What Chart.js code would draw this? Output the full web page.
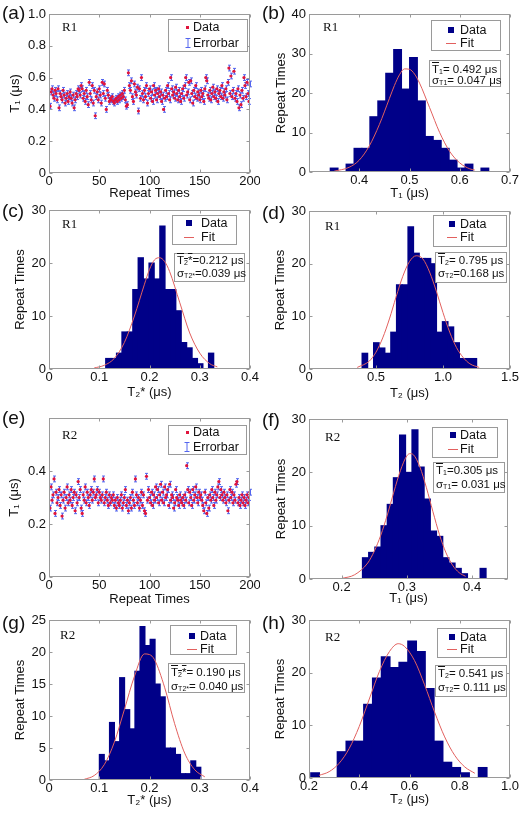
<!DOCTYPE html>
<html>
<head>
<meta charset="utf-8">
<title>T1 / T2 statistics</title>
<script src="https://cdn.jsdelivr.net/npm/chart.js@4.4.1/dist/chart.umd.min.js"></script>
<style>
  body { margin: 0; background: #fff; }
  #fig { position: relative; width: 520px; height: 814px; overflow: hidden;
         font-family: "Liberation Sans", Arial, sans-serif; color: #111; }
  #fig canvas { position: absolute; }
  .tag { position: absolute; font-size: 19px; line-height: 19px; }
  .run { position: absolute; font-family: "Liberation Serif", "Times New Roman", serif; font-size: 13px; line-height: 13px; }
  .box { position: absolute; border: 1px solid #9a9a9a; background: #fff; box-sizing: border-box; }
  .row { position: absolute; font-size: 12.5px; line-height: 14px; white-space: nowrap; }
  .stat { position: absolute; font-size: 11.5px; line-height: 13px; white-space: nowrap; }
  .ov { text-decoration: overline; }
  sub { font-size: 7px; line-height: 0; vertical-align: -1px; }
  .mk { position: absolute; }
</style>
</head>
<body>
<div id="fig"></div>
<script>
// ---------- data ----------
const repeatTicks = [0, 50, 100, 150, 200];

// (a) R1 T1 per repeat
const t1R1 = [
  0.42, 0.51, 0.53, 0.49, 0.47, 0.52, 0.50, 0.46, 0.53, 0.41,
  0.50, 0.48, 0.46, 0.52, 0.49, 0.44, 0.47, 0.50, 0.45, 0.48,
  0.51, 0.47, 0.44, 0.49, 0.41, 0.46, 0.50, 0.48, 0.53, 0.52,
  0.49, 0.55, 0.53, 0.47, 0.50, 0.45, 0.52, 0.48, 0.43, 0.57,
  0.50, 0.46, 0.55, 0.44, 0.52, 0.36, 0.48, 0.51, 0.46, 0.53,
  0.49, 0.44, 0.57, 0.50, 0.56, 0.47, 0.40, 0.52, 0.49, 0.45,
  0.47, 0.46, 0.48, 0.45, 0.44, 0.46, 0.47, 0.45, 0.48, 0.46,
  0.49, 0.47, 0.50, 0.48, 0.52, 0.46, 0.42, 0.43, 0.63, 0.55,
  0.52, 0.58, 0.48, 0.45, 0.56, 0.51, 0.49, 0.54, 0.39, 0.53,
  0.47, 0.60, 0.50, 0.46, 0.52, 0.48, 0.55, 0.44, 0.50, 0.53,
  0.47, 0.51, 0.45, 0.55, 0.49, 0.52, 0.46, 0.50, 0.53, 0.48,
  0.51, 0.45, 0.49, 0.40, 0.47, 0.52, 0.48, 0.55, 0.50, 0.46,
  0.60, 0.53, 0.49, 0.51, 0.47, 0.54, 0.50, 0.46, 0.52, 0.48,
  0.45, 0.50, 0.53, 0.47, 0.55, 0.60, 0.49, 0.51, 0.57, 0.46,
  0.58, 0.50, 0.44, 0.52, 0.48, 0.55, 0.47, 0.51, 0.49, 0.46,
  0.52, 0.48, 0.50, 0.45, 0.53, 0.60, 0.58, 0.49, 0.47, 0.52,
  0.46, 0.50, 0.54, 0.48, 0.51, 0.47, 0.53, 0.45, 0.50, 0.52,
  0.48, 0.55, 0.47, 0.51, 0.49, 0.53, 0.46, 0.57, 0.66, 0.50,
  0.61, 0.48, 0.52, 0.64, 0.47, 0.50, 0.45, 0.53, 0.41, 0.49,
  0.43, 0.52, 0.47, 0.60, 0.55, 0.48, 0.57, 0.50, 0.45, 0.56
];
const errR1 = 0.018;

// (e) R2 T1 per repeat
const t1R2 = [
  0.26, 0.34, 0.29, 0.31, 0.37, 0.24, 0.32, 0.28, 0.30, 0.33,
  0.27, 0.31, 0.23, 0.29, 0.32, 0.26, 0.30, 0.34, 0.28, 0.31,
  0.29, 0.33, 0.27, 0.30, 0.32, 0.25, 0.31, 0.28, 0.36, 0.30,
  0.33, 0.26, 0.24, 0.31, 0.29, 0.34, 0.28, 0.32, 0.30, 0.27,
  0.31, 0.33, 0.29, 0.32, 0.37, 0.30, 0.31, 0.33, 0.28, 0.32,
  0.30, 0.29, 0.31, 0.37, 0.28, 0.30, 0.32, 0.29, 0.27, 0.31,
  0.28, 0.30, 0.29, 0.31, 0.27, 0.29, 0.26, 0.30, 0.28, 0.27,
  0.29, 0.31, 0.26, 0.28, 0.30, 0.33, 0.27, 0.29, 0.25, 0.28,
  0.30, 0.26, 0.32, 0.29, 0.27, 0.37, 0.31, 0.28, 0.30, 0.26,
  0.29, 0.32, 0.27, 0.31, 0.25, 0.24, 0.38, 0.29, 0.33, 0.30,
  0.28, 0.32, 0.27, 0.31, 0.29, 0.34, 0.30, 0.33, 0.28, 0.31,
  0.35, 0.29, 0.32, 0.28, 0.34, 0.30, 0.31, 0.33, 0.27, 0.35,
  0.29, 0.31, 0.30, 0.26, 0.28, 0.33, 0.30, 0.29, 0.27, 0.31,
  0.29, 0.28, 0.30, 0.27, 0.31, 0.29, 0.42, 0.33, 0.28, 0.32,
  0.30, 0.27, 0.33, 0.29, 0.31, 0.34, 0.30, 0.28, 0.32, 0.30,
  0.31, 0.29, 0.27, 0.25, 0.32, 0.28, 0.24, 0.30, 0.26, 0.31,
  0.29, 0.33, 0.30, 0.27, 0.32, 0.29, 0.31, 0.34, 0.36, 0.30,
  0.33, 0.31, 0.29, 0.32, 0.30, 0.28, 0.31, 0.25, 0.29, 0.33,
  0.30, 0.32, 0.28, 0.31, 0.29, 0.35, 0.36, 0.28, 0.30, 0.27,
  0.29, 0.31, 0.28, 0.30, 0.27, 0.29, 0.31, 0.28, 0.30, 0.32
];
const errR2 = 0.011;

// (b) R1 T1 histogram
const binsB = [0.3500, 0.3658, 0.3816, 0.3974, 0.4132, 0.4289, 0.4447, 0.4605, 0.4763, 0.4921,
               0.5079, 0.5237, 0.5395, 0.5553, 0.5711, 0.5868, 0.6026, 0.6184, 0.6342, 0.6500];
const cntB  = [1, 0, 2, 6, 6, 14, 18, 25, 31, 21, 29, 18, 9, 8, 6, 3, 1, 2, 0, 1];
const fitBx = [0.35, 0.38, 0.40, 0.42, 0.44, 0.46, 0.47, 0.48, 0.49, 0.50, 0.51, 0.52, 0.54, 0.56, 0.58, 0.60, 0.62, 0.63];
const fitBy = [0.2, 1.2, 3.0, 6.6, 12.0, 18.6, 21.9, 24.6, 26.1, 26.0, 24.8, 22.5, 16.3, 10.0, 5.2, 2.3, 0.8, 0.5];

// (c) R1 T2* histogram
const binsC = [0.1180, 0.1288, 0.1395, 0.1503, 0.1611, 0.1719, 0.1826, 0.1934, 0.2042, 0.2149,
               0.2257, 0.2365, 0.2472, 0.2580, 0.2688, 0.2796, 0.2903, 0.3011, 0.3119, 0.3226];
const cntC  = [2, 2, 3, 7, 7, 15, 21, 17, 20, 17, 27, 15, 15, 11, 5, 4, 2, 1, 0, 3];
const fitCx = [0.09, 0.11, 0.13, 0.15, 0.17, 0.19, 0.20, 0.21, 0.22, 0.23, 0.24, 0.26, 0.28, 0.30, 0.32, 0.335];
const fitCy = [0.2, 0.7, 2.0, 5.0, 10.0, 16.0, 18.8, 20.6, 21.0, 20.3, 18.4, 12.6, 6.8, 3.0, 1.0, 0.4];

// (d) R1 T2 histogram
const binsD = [0.4170, 0.4598, 0.5026, 0.5454, 0.5882, 0.6310, 0.6738, 0.7166, 0.7594, 0.8022,
               0.8450, 0.8878, 0.9306, 0.9734, 1.0162, 1.0590, 1.1018, 1.1446, 1.1874, 1.2302];
const cntD  = [3, 0, 5, 4, 3, 7, 16, 16, 27, 22, 21, 21, 20, 7, 9, 8, 5, 2, 2, 2];
const fitDx = [0.36, 0.45, 0.50, 0.55, 0.60, 0.65, 0.70, 0.75, 0.80, 0.85, 0.90, 0.95, 1.00, 1.05, 1.10, 1.15, 1.20, 1.27];
const fitDy = [0.3, 1.5, 3.2, 5.9, 9.5, 13.7, 17.6, 20.4, 21.5, 20.9, 18.4, 14.8, 10.7, 7.0, 4.1, 2.2, 1.0, 0.3];

// (f) R2 T1 histogram
const binsF = [0.2365, 0.2460, 0.2555, 0.2650, 0.2745, 0.2839, 0.2934, 0.3029, 0.3124, 0.3219,
               0.3314, 0.3409, 0.3504, 0.3598, 0.3693, 0.3788, 0.3883, 0.3978, 0.4073, 0.4168];
const cntF  = [4, 5, 6, 10, 14, 19, 27, 20, 28, 21, 15, 9, 8, 4, 3, 2, 1, 0, 0, 2];
const fitFx = [0.20, 0.22, 0.24, 0.25, 0.26, 0.27, 0.28, 0.29, 0.30, 0.305, 0.31, 0.32, 0.33, 0.34, 0.35, 0.36, 0.37, 0.38, 0.39];
const fitFy = [0.1, 0.8, 3.0, 5.2, 8.2, 12.0, 16.3, 20.3, 23.1, 23.5, 23.3, 21.0, 17.1, 12.6, 8.3, 4.9, 2.6, 1.2, 0.5];

// (g) R2 T2* histogram
const binsG = [0.1051, 0.1152, 0.1253, 0.1354, 0.1455, 0.1557, 0.1658, 0.1759, 0.1860, 0.1961,
               0.2062, 0.2163, 0.2264, 0.2366, 0.2467, 0.2568, 0.2669, 0.2770, 0.2871, 0.2972];
const cntG  = [4, 3, 9, 6, 16, 11, 8, 17, 24, 21, 22, 15, 13, 5, 5, 4, 1, 1, 3, 2];
const fitGx = [0.07, 0.09, 0.11, 0.13, 0.15, 0.17, 0.19, 0.20, 0.21, 0.23, 0.25, 0.27, 0.29, 0.31];
const fitGy = [0.1, 0.7, 2.4, 5.9, 11.0, 16.2, 19.7, 19.6, 18.8, 14.5, 8.8, 4.2, 1.6, 0.5];

// (h) R2 T2 histogram
const binsH = [0.2243, 0.2594, 0.2945, 0.3296, 0.3647, 0.3998, 0.4349, 0.4700, 0.5051, 0.5402,
               0.5753, 0.6104, 0.6455, 0.6806, 0.7157, 0.7508, 0.7859, 0.8210, 0.8561, 0.8912];
const cntH  = [1, 0, 0, 5, 7, 7, 14, 19, 23, 21, 22, 26, 24, 17, 7, 3, 2, 1, 0, 2];
const fitHx = [0.24, 0.28, 0.32, 0.36, 0.40, 0.44, 0.48, 0.52, 0.555, 0.58, 0.62, 0.66, 0.70, 0.74, 0.78, 0.82, 0.86];
const fitHy = [0.5, 1.2, 2.8, 5.6, 9.8, 15.0, 20.2, 24.0, 25.5, 25.0, 22.3, 17.7, 12.5, 7.8, 4.3, 2.1, 0.9];

// tick labels
const yTicksA = [0, 0.2, 0.4, 0.6, 0.8, 1];
const yTicksE = [0, 0.2, 0.4];
const xTicksB = [0.4, 0.5, 0.6, 0.7], yTicksB = [0, 10, 20, 30, 40];
const xTicksC = [0, 0.1, 0.2, 0.3, 0.4], yTicksC = [0, 10, 20, 30];
const xTicksD = [0, 0.5, 1, 1.5], yTicksD = [0, 10, 20, 30];
const xTicksF = [0.2, 0.3, 0.4], yTicksF = [0, 10, 20, 30];
const xTicksG = [0, 0.1, 0.2, 0.3, 0.4], yTicksG = [0, 5, 10, 15, 20, 25];
const xTicksH = [0.2, 0.4, 0.6, 0.8, 1], yTicksH = [0, 10, 20, 30];

// ---------- drawing ----------
Chart.defaults.font.family = '"Liberation Sans", Arial, sans-serif';
Chart.defaults.color = '#111';

const NAVY = '#000088';
const FITRED = '#e2605e';
const DOTRED = '#e0143c';
const ERRBLUE = '#5466ee';

const fig = document.getElementById('fig');

// box round the plot area, with short inward ticks
const framePlugin = {
  id: 'frame',
  afterDatasetsDraw(chart) {
    const { ctx, chartArea: a, scales } = chart;
    const l = Math.round(a.left) + 0.5, t = Math.round(a.top) + 0.5;
    const r = Math.round(a.right) - 0.5, b = Math.round(a.bottom) - 0.5;
    ctx.save();
    ctx.strokeStyle = '#9a9a9a';
    ctx.lineWidth = 1;
    ctx.strokeRect(l, t, r - l, b - t);
    ctx.beginPath();
    scales.x.ticks.forEach(tk => {
      const x = Math.round(scales.x.getPixelForValue(tk.value)) + 0.5;
      ctx.moveTo(x, b); ctx.lineTo(x, b - 3);
      ctx.moveTo(x, t); ctx.lineTo(x, t + 3);
    });
    scales.y.ticks.forEach(tk => {
      const y = Math.round(scales.y.getPixelForValue(tk.value)) + 0.5;
      ctx.moveTo(l, y); ctx.lineTo(l + 3, y);
      ctx.moveTo(r, y); ctx.lineTo(r - 3, y);
    });
    ctx.stroke();
    ctx.restore();
  }
};

// vertical error bars with caps, under the dots
const errorBarPlugin = {
  id: 'errorBars',
  beforeDatasetsDraw(chart, args, opts) {
    if (!opts || !opts.half) return;
    const { ctx } = chart;
    const xs = chart.scales.x, ys = chart.scales.y;
    ctx.save();
    ctx.strokeStyle = ERRBLUE;
    ctx.lineWidth = 1;
    ctx.beginPath();
    chart.data.datasets[0].data.forEach(p => {
      const x = Math.round(xs.getPixelForValue(p.x)) + 0.5;
      const y1 = ys.getPixelForValue(p.y - opts.half);
      const y2 = ys.getPixelForValue(p.y + opts.half);
      ctx.moveTo(x, y1); ctx.lineTo(x, y2);
      ctx.moveTo(x - 1.5, y1); ctx.lineTo(x + 1.5, y1);
      ctx.moveTo(x - 1.5, y2); ctx.lineTo(x + 1.5, y2);
    });
    ctx.stroke();
    ctx.restore();
  }
};

function scatterSets(vals) {
  return [{
    type: 'scatter',
    data: vals.map((v, i) => ({ x: i + 1, y: v })),
    pointRadius: 1.6,
    pointBackgroundColor: DOTRED,
    pointBorderWidth: 0
  }];
}

function histSets(bins, counts, fx, fy) {
  return [{
    type: 'line',
    data: fx.map((x, i) => ({ x: x, y: fy[i] })),
    borderColor: FITRED,
    borderWidth: 1,
    pointRadius: 0,
    cubicInterpolationMode: 'monotone'
  }, {
    type: 'bar',
    data: bins.map((c, i) => ({ x: c, y: counts[i] })),
    backgroundColor: NAVY,
    barPercentage: 1,
    categoryPercentage: 1,
    inflateAmount: 0.5,
    borderWidth: 0
  }];
}

function addPanel(p) {
  const cv = document.createElement('canvas');
  cv.width = p.w;
  cv.height = p.h;
  cv.style.left = p.left + 'px';
  cv.style.top = p.top + 'px';
  fig.appendChild(cv);
  const [L, T, R, B] = p.plot;
  const yW = L - p.left;
  const xH = p.top + p.h - B;
  new Chart(cv, {
    type: p.type,
    data: { datasets: p.datasets },
    options: {
      responsive: false,
      animation: false,
      events: [],
      layout: { padding: { left: 0, top: T - p.top, right: p.left + p.w - R, bottom: 0 } },
      plugins: { legend: { display: false }, tooltip: { enabled: false }, errorBars: p.err || {} },
      scales: {
        x: {
          type: 'linear', min: p.xr[0], max: p.xr[1], offset: false,
          grid: { display: false, drawTicks: false, offset: false }, border: { display: false },
          ticks: { padding: 1, autoSkip: false, maxRotation: 0, font: { size: 13 } },
          title: { display: true, text: p.xTitle, font: { size: 13 }, padding: 0 },
          afterBuildTicks: s => { s.ticks = p.xTicks.map(v => ({ value: v })); },
          afterFit: s => { s.height = xH; s.paddingLeft = 0; s.paddingRight = 0; }
        },
        y: {
          type: 'linear', min: p.yr[0], max: p.yr[1],
          grid: { display: false, drawTicks: false }, border: { display: false },
          ticks: { padding: 3, autoSkip: false, font: { size: 13 } },
          title: { display: true, text: p.yTitle, font: { size: 13 }, padding: { top: p.yPad, bottom: 0 } },
          afterBuildTicks: s => { s.ticks = p.yTicks.map(v => ({ value: v })); },
          afterFit: s => { s.width = yW; s.paddingTop = 0; s.paddingBottom = 0; }
        }
      }
    },
    plugins: p.err ? [framePlugin, errorBarPlugin] : [framePlugin]
  });
}

function put(cls, left, top, html, extra) {
  const d = document.createElement('div');
  d.className = cls;
  d.style.left = left + 'px';
  d.style.top = top + 'px';
  if (extra) Object.assign(d.style, extra);
  d.innerHTML = html;
  fig.appendChild(d);
  return d;
}

function addLegend(lg, kind) {
  const [bl, bt, bw, bh] = lg.box;
  put('box', bl, bt, '', { width: bw + 'px', height: bh + 'px' });
  const [y1, y2] = lg.rows;
  if (kind === 'scatter') {
    put('mk', lg.mx - 1.5, y1 - 1.5, '', { width: '3px', height: '3px', background: DOTRED });
    put('mk', lg.mx - 3, y2 - 5, '<svg width="6" height="10"><path d="M0.5 0.5H5.5M3 0.5V9.5M0.5 9.5H5.5" stroke="' + ERRBLUE + '" fill="none"/></svg>', { lineHeight: 0 });
    put('row', lg.tx, y1 - 7, 'Data');
    put('row', lg.tx, y2 - 7, 'Errorbar');
  } else {
    put('mk', lg.mx - 3, y1 - 3, '', { width: '6px', height: '6px', background: NAVY });
    put('mk', lg.mx - 5, y2, '', { width: '10px', height: '1px', background: FITRED });
    put('row', lg.tx, y1 - 7, 'Data');
    put('row', lg.tx, y2 - 7, 'Fit');
  }
}

function addStats(st) {
  const [bl, bt, bw, bh] = st.box;
  put('box', bl, bt, '', { width: bw + 'px', height: bh + 'px' });
  put('stat', bl + 3, st.rows[0] - 7, st.lines[0]);
  put('stat', bl + 3, st.rows[1] - 7, st.lines[1]);
}

const T1 = 'T\u2081 (\u03bcs)', T2 = 'T\u2082 (\u03bcs)', T2s = 'T\u2082* (\u03bcs)';

const panels = [
  { tag: '(a)', tagAt: [2, 3], run: 'R1', runAt: [62, 20], type: 'scatter',
    left: 0, top: 0, w: 260, h: 201, plot: [49, 14, 250, 173],
    datasets: scatterSets(t1R1), err: { half: errR1 },
    xr: [0, 200], yr: [0, 1], xTicks: repeatTicks, yTicks: yTicksA,
    xTitle: 'Repeat Times', yTitle: T1, yPad: 8,
    legend: { box: [168, 19, 80, 33], mx: 187.5, tx: 193, rows: [27, 43] } },
  { tag: '(b)', tagAt: [262, 3], run: 'R1', runAt: [323, 20], type: 'bar',
    left: 260, top: 0, w: 260, h: 201, plot: [309, 14, 510, 172],
    datasets: histSets(binsB, cntB, fitBx, fitBy),
    xr: [0.3, 0.7], yr: [0, 40], xTicks: xTicksB, yTicks: yTicksB,
    xTitle: T1, yTitle: 'Repeat Times', yPad: 14,
    legend: { box: [431, 20, 70, 31], mx: 451, tx: 460, rows: [30, 43] },
    stats: { box: [429, 60, 72, 27], rows: [70, 81],
      lines: ['<span class="ov">T</span><sub>1</sub>= 0.492 \u03bcs', '\u03c3<sub>T1</sub>= 0.047 \u03bcs'] } },
  { tag: '(c)', tagAt: [2, 201], run: 'R1', runAt: [62, 217], type: 'bar',
    left: 0, top: 200, w: 260, h: 200, plot: [49, 210, 250, 369],
    datasets: histSets(binsC, cntC, fitCx, fitCy),
    xr: [0, 0.4], yr: [0, 30], xTicks: xTicksC, yTicks: yTicksC,
    xTitle: T2s, yTitle: 'Repeat Times', yPad: 13,
    legend: { box: [172, 215, 65, 30], mx: 189, tx: 201, rows: [223, 237] },
    stats: { box: [174, 253, 71, 29], rows: [261, 274],
      lines: ['<span class="ov">T<sub>2</sub>*</span>=0.212 \u03bcs', '\u03c3<sub>T2*</sub>=0.039 \u03bcs'] } },
  { tag: '(d)', tagAt: [262, 203], run: 'R1', runAt: [325, 219], type: 'bar',
    left: 260, top: 200, w: 260, h: 201, plot: [309, 211, 510, 369],
    datasets: histSets(binsD, cntD, fitDx, fitDy),
    xr: [0, 1.5], yr: [0, 30], xTicks: xTicksD, yTicks: yTicksD,
    xTitle: T2, yTitle: 'Repeat Times', yPad: 13,
    legend: { box: [433, 215, 74, 32], mx: 452, tx: 460, rows: [224, 237] },
    stats: { box: [435, 252, 72, 31], rows: [261, 274],
      lines: ['<span class="ov">T</span><sub>2</sub>= 0.795 \u03bcs', '\u03c3<sub>T2</sub>=0.168 \u03bcs'] } },
  { tag: '(e)', tagAt: [2, 408], run: 'R2', runAt: [62, 428], type: 'scatter',
    left: 0, top: 400, w: 260, h: 207, plot: [49, 418, 250, 577],
    datasets: scatterSets(t1R2), err: { half: errR2 },
    xr: [0, 200], yr: [0, 0.6], xTicks: repeatTicks, yTicks: yTicksE,
    xTitle: 'Repeat Times', yTitle: T1, yPad: 7,
    legend: { box: [168, 425, 79, 30], mx: 187, tx: 193, rows: [432, 447] } },
  { tag: '(f)', tagAt: [262, 410], run: 'R2', runAt: [325, 430], type: 'bar',
    left: 260, top: 400, w: 260, h: 206, plot: [309, 419, 508, 579],
    datasets: histSets(binsF, cntF, fitFx, fitFy),
    xr: [0.15, 0.455], yr: [0, 30], xTicks: xTicksF, yTicks: yTicksF,
    xTitle: T1, yTitle: 'Repeat Times', yPad: 14,
    legend: { box: [432, 427, 66, 31], mx: 453, tx: 460, rows: [435, 449] },
    stats: { box: [433, 462, 72, 31], rows: [471, 485],
      lines: ['<span class="ov">T</span><sub>1</sub>=0.305 \u03bcs', '\u03c3<sub>T1</sub>= 0.031 \u03bcs'] } },
  { tag: '(g)', tagAt: [2, 613], run: 'R2', runAt: [60, 628], type: 'bar',
    left: 0, top: 605, w: 260, h: 203, plot: [49, 620, 250, 780],
    datasets: histSets(binsG, cntG, fitGx, fitGy),
    xr: [0, 0.4], yr: [0, 25], xTicks: xTicksG, yTicks: yTicksG,
    xTitle: T2s, yTitle: 'Repeat Times', yPad: 13,
    legend: { box: [170, 625, 67, 30], mx: 192, tx: 200, rows: [636, 649] },
    stats: { box: [168, 663, 77, 30], rows: [673, 687],
      lines: ['<span class="ov">T<sub>2</sub>*</span>= 0.190 \u03bcs', '\u03c3<sub>T2*</sub>= 0.040 \u03bcs'] } },
  { tag: '(h)', tagAt: [262, 613], run: 'R2', runAt: [325, 630], type: 'bar',
    left: 260, top: 605, w: 260, h: 202, plot: [309, 620, 510, 778],
    datasets: histSets(binsH, cntH, fitHx, fitHy),
    xr: [0.2, 1], yr: [0, 30], xTicks: xTicksH, yTicks: yTicksH,
    xTitle: T2, yTitle: 'Repeat Times', yPad: 13,
    legend: { box: [437, 628, 70, 30], mx: 452, tx: 460, rows: [637, 649] },
    stats: { box: [435, 665, 72, 32], rows: [674, 688],
      lines: ['<span class="ov">T</span><sub>2</sub>= 0.541 \u03bcs', '\u03c3<sub>T2</sub>= 0.111 \u03bcs'] } }
];

panels.forEach(p => {
  addPanel(p);
  put('tag', p.tagAt[0], p.tagAt[1], p.tag);
  put('run', p.runAt[0], p.runAt[1], p.run);
  addLegend(p.legend, p.type);
  if (p.stats) addStats(p.stats);
});
</script>
</body>
</html>
